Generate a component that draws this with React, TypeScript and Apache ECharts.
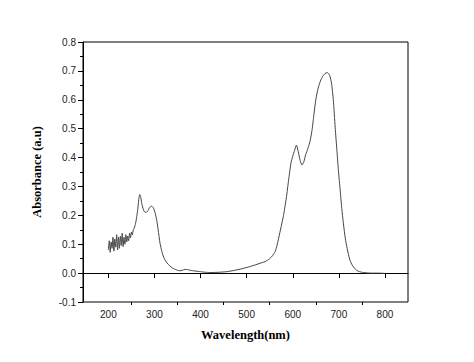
import React, { useEffect, useRef } from "react";
import * as echarts from "echarts";

const wavelength = [
  200, 202, 204, 206, 208, 210, 212, 214, 216, 218, 220, 222, 224, 226, 228, 230, 232, 234, 236, 238,
  240, 242, 244, 246, 248, 250, 252, 254, 256, 258, 260, 262, 264, 266, 268, 270, 272, 275, 278, 282,
  286, 290, 294, 298, 302, 305, 308, 312, 316, 320, 325, 330, 337, 345, 355, 360, 366, 372, 380, 390,
  400, 410, 420, 440, 457, 475, 492, 510, 529, 540, 550, 556, 562, 566, 572, 580, 586, 591, 596, 600,
  604, 608, 612, 616, 620, 624, 628, 633, 638, 642, 646, 650, 655, 660, 665, 670, 675, 680, 684, 688,
  692, 696, 699, 703, 706, 710, 714, 718, 724, 730, 738, 745, 753, 770, 785, 800,
];
const absorbance = [
  0.08, 0.112, 0.072, 0.108, 0.086, 0.124, 0.076, 0.118, 0.09, 0.133, 0.08, 0.124, 0.086, 0.128, 0.096, 0.138, 0.092, 0.124, 0.1, 0.133,
  0.108, 0.128, 0.112, 0.138, 0.122, 0.142, 0.132, 0.15, 0.155, 0.165, 0.18, 0.2, 0.225, 0.255, 0.272, 0.265, 0.245, 0.225, 0.213, 0.21,
  0.217, 0.228, 0.232, 0.225, 0.205, 0.183, 0.15, 0.104, 0.075, 0.055, 0.04, 0.03, 0.02, 0.013, 0.008, 0.01, 0.013, 0.012, 0.009, 0.007,
  0.005, 0.003, 0.002, 0.003, 0.005, 0.01, 0.016, 0.024, 0.034, 0.04, 0.05, 0.06, 0.075, 0.097, 0.14, 0.2, 0.26, 0.322, 0.38, 0.405,
  0.425, 0.443, 0.42, 0.39, 0.374, 0.385, 0.41, 0.432, 0.46, 0.497, 0.55, 0.6, 0.64, 0.665, 0.681, 0.691, 0.694, 0.685, 0.658, 0.6,
  0.505, 0.42, 0.356, 0.285, 0.23, 0.17, 0.12, 0.085, 0.045, 0.025, 0.01, 0.005, 0.002, 0.0, 0.0, -0.001,
];
const xMajorTicks = [200, 300, 400, 500, 600, 700, 800];
const xMinorTicks = [250, 350, 450, 550, 650, 750];
const xName = "Wavelength(nm)";
const yName = "Absorbance (a.u)";

export default function App() {
  const ref = useRef<HTMLDivElement>(null);
  useEffect(() => {
    if (!ref.current) return;
    const chart = echarts.init(ref.current, undefined, { renderer: "svg" });
    const labelFont = { fontFamily: "Liberation Sans, Arial, sans-serif", fontSize: 10, color: "#222" };
    const nameFont = { fontFamily: "Liberation Serif, Times New Roman, serif", fontSize: 12.5, fontWeight: "bold" as const, color: "#000" };
    chart.setOption({
      animation: false,
      backgroundColor: "#fff",
      grid: { left: 83, right: 66, top: 42, bottom: 60, show: true, borderColor: "#000", borderWidth: 1, backgroundColor: "transparent" },
      xAxis: [
        {
          type: "value",
          min: 145,
          max: 850,
          name: xName,
          nameLocation: "middle",
          nameGap: 26,
          nameTextStyle: nameFont,
          axisLine: { show: true, lineStyle: { color: "#000", width: 1 } },
          axisTick: { show: true, customValues: xMajorTicks, length: 5, inside: false, lineStyle: { color: "#000" } },
          axisLabel: { ...labelFont, customValues: xMajorTicks, margin: 7 },
          splitLine: { show: false },
        },
        {
          type: "value",
          min: 145,
          max: 850,
          position: "bottom",
          axisLine: { show: false },
          axisTick: { show: true, customValues: xMinorTicks, length: 3, inside: false, lineStyle: { color: "#000" } },
          axisLabel: { show: false },
          splitLine: { show: false },
        },
      ],
      yAxis: {
        type: "value",
        min: -0.1,
        max: 0.8,
        interval: 0.1,
        name: yName,
        nameLocation: "middle",
        nameGap: 40,
        nameTextStyle: nameFont,
        axisLine: { show: true, lineStyle: { color: "#000", width: 1 } },
        axisTick: { show: true, length: 5, inside: false, lineStyle: { color: "#000" } },
        minorTick: { show: true, splitNumber: 2, length: 3, lineStyle: { color: "#000" } },
        axisLabel: { ...labelFont, margin: 7, formatter: (v: number) => v.toFixed(1) },
        splitLine: { show: false },
        minorSplitLine: { show: false },
      },
      series: [
        {
          type: "line",
          xAxisIndex: 0,
          data: wavelength.map((w, i) => [w, absorbance[i]]),
          showSymbol: false,
          symbol: "none",
          smooth: 0.2,
          lineStyle: { color: "#444", width: 1 },
        },
      ],
    });
    return () => chart.dispose();
  }, []);
  return <div ref={ref} style={{ position: "fixed", left: 0, top: 0, width: 474, height: 362 }} />;
}
